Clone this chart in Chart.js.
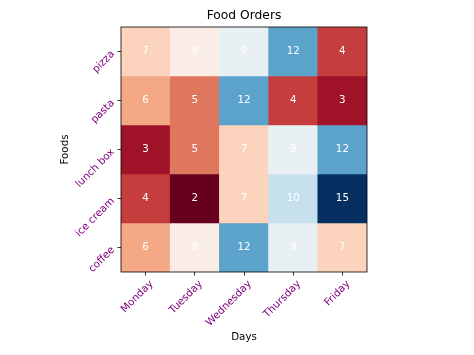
<!DOCTYPE html>
<html>
<head>
<meta charset="utf-8">
<script src="https://cdn.jsdelivr.net/npm/chart.js@4.4.1/dist/chart.umd.min.js"></script>
<style>html,body{margin:0;padding:0;background:#fff;}canvas{display:block;}</style>
</head>
<body>
<canvas id="c" width="474" height="355"></canvas>
<script>
const days = ["Monday", "Tuesday", "Wednesday", "Thursday", "Friday"];
const foods = ["pizza", "pasta", "lunch box", "ice cream", "coffee"];
const pizza = [7, 8, 9, 12, 4];
const pasta = [6, 5, 12, 4, 3];
const lunchBox = [3, 5, 7, 9, 12];
const iceCream = [4, 2, 7, 10, 15];
const coffee = [6, 8, 12, 9, 7];
const rows = [pizza, pasta, lunchBox, iceCream, coffee];

// RdBu colormap (matplotlib)
const RdBu = [
  [0.403921568627451, 0.0, 0.12156862745098039],
  [0.6980392156862745, 0.09411764705882353, 0.16862745098039217],
  [0.8392156862745098, 0.3764705882352941, 0.30196078431372547],
  [0.9568627450980393, 0.6470588235294118, 0.5098039215686274],
  [0.9921568627450981, 0.8588235294117647, 0.7803921568627451],
  [0.9686274509803922, 0.9686274509803922, 0.9686274509803922],
  [0.8196078431372549, 0.8980392156862745, 0.9411764705882353],
  [0.5725490196078431, 0.7725490196078432, 0.8705882352941177],
  [0.2627450980392157, 0.5764705882352941, 0.7647058823529411],
  [0.12941176470588237, 0.4, 0.6745098039215687],
  [0.0196078431372549, 0.18823529411764706, 0.3803921568627451]
];
const allVals = rows.flat();
const vmin = Math.min(...allVals), vmax = Math.max(...allVals);
function cmap(v) {
  const N = 256;
  let t = (v - vmin) / (vmax - vmin);
  let idx = Math.floor(t * N);
  if (idx >= N) idx = N - 1;
  if (idx < 0) idx = 0;
  const p = idx / (N - 1) * (RdBu.length - 1);
  let k = Math.floor(p);
  if (k >= RdBu.length - 1) k = RdBu.length - 2;
  const f = p - k;
  const c = [0, 1, 2].map(j => Math.round(255 * (RdBu[k][j] + (RdBu[k + 1][j] - RdBu[k][j]) * f)));
  return `rgb(${c[0]},${c[1]},${c[2]})`;
}

const datasets = foods.map((name, r) => {
  const base = foods.length - 1 - r;
  return {
    label: name,
    data: rows[r].map(() => [base, base + 1]),
    values: rows[r],
    backgroundColor: rows[r].map(cmap),
    borderWidth: 0,
    borderSkipped: false,
    barPercentage: 1,
    categoryPercentage: 1,
    grouped: false
  };
});

const FONT = "'DejaVu Sans', sans-serif";

const cellText = {
  id: 'cellText',
  afterDatasetsDraw(chart) {
    const ctx = chart.ctx;
    ctx.save();
    ctx.fillStyle = '#ffffff';
    ctx.font = '10.3px ' + FONT;
    ctx.textAlign = 'center';
    ctx.textBaseline = 'middle';
    chart.data.datasets.forEach((ds, i) => {
      const meta = chart.getDatasetMeta(i);
      meta.data.forEach((el, j) => {
        const p = el.getCenterPoint();
        ctx.fillText(String(ds.values[j]), p.x, p.y);
      });
    });
    ctx.restore();
  }
};
const frame = {
  id: 'frame',
  afterDraw(chart) {
    const a = chart.chartArea;
    const ctx = chart.ctx;
    ctx.save();
    ctx.strokeStyle = '#000';
    ctx.lineWidth = 0.8;
    ctx.strokeRect(a.left, a.top, a.right - a.left, a.bottom - a.top);
    ctx.restore();
  }
};

new Chart(document.getElementById('c'), {
  type: 'bar',
  data: { labels: days, datasets },
  options: {
    responsive: false,
    animation: false,
    devicePixelRatio: 1,
    layout: { padding: { left: 0, right: 107, top: 0, bottom: 0 } },
    plugins: {
      legend: { display: false },
      tooltip: { enabled: false },
      title: {
        display: true,
        text: 'Food Orders',
        fullSize: false,
        color: '#000',
        font: { family: FONT, size: 12.3, weight: 'normal' },
        padding: { top: 8.5, bottom: 3.74 }
      }
    },
    scales: {
      x: {
        type: 'category',
        offset: true,
        afterFit(s) { s.height = 83; },
        grid: { offset: false, drawOnChartArea: false, drawTicks: true, tickLength: 3.5, color: '#000', lineWidth: 0.8 },
        border: { display: false },
        ticks: { color: 'purple', minRotation: 45, maxRotation: 45, autoSkip: false, padding: 2.5, labelOffset: 6, font: { family: FONT, size: 10.3 } },
        title: { display: true, text: 'Days', color: '#000', font: { family: FONT, size: 10.3 }, padding: { top: 0, bottom: 11 } }
      },
      y: {
        type: 'linear',
        min: 0,
        max: 5,
        afterFit(s) { s.width = 121; },
        afterBuildTicks(s) { s.ticks = foods.map((f, i) => ({ value: foods.length - 1 - i + 0.5 })); },
        grid: { drawOnChartArea: false, drawTicks: true, tickLength: 3.5, color: '#000', lineWidth: 0.8 },
        border: { display: false },
        ticks: {
          color: 'purple', minRotation: 45, maxRotation: 45, autoSkip: false, padding: 4.5, labelOffset: 1,
          font: { family: FONT, size: 10.3 },
          callback(v) { return foods[foods.length - 1 - Math.floor(v)]; }
        },
        title: { display: true, text: 'Foods', color: '#000', font: { family: FONT, size: 10.3 }, padding: { top: 59, bottom: 0 } }
      }
    }
  },
  plugins: [cellText, frame]
});
</script>
</body>
</html>
